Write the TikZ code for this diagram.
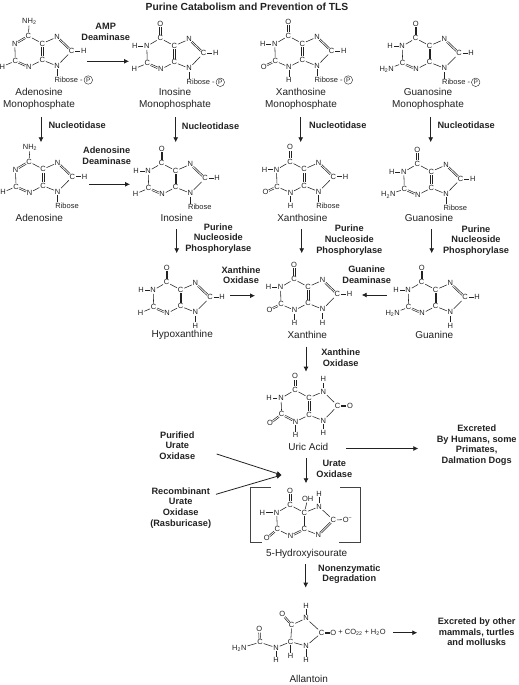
\documentclass[tikz,border=0pt]{standalone}
\usepackage{fontspec}
\setmainfont{Liberation Sans}
\usetikzlibrary{arrows.meta,calc}
\definecolor{ink}{HTML}{222222}
\tikzset{
  atom/.style={font=\fontsize{7.5}{7.5}\selectfont,text=ink,inner sep=0.7pt},
  bond/.style={draw=ink,line width=.55pt},
  dbond/.style={draw=ink,line width=.5pt,shorten <=3.6pt,shorten >=3.6pt},
  name label/.style={font=\fontsize{10}{12}\selectfont,text=ink,align=center,inner sep=0pt},
  enzyme/.style={font=\bfseries\fontsize{9.2}{10.7}\selectfont,text=ink,align=center,inner sep=0pt},
  rxnarrow/.style={draw=ink,line width=.8pt,-{Latex[length=5pt,width=5pt]}},
  bracketline/.style={draw=ink!85,line width=.8pt},
  phos/.style={circle,draw=ink,line width=.4pt,inner sep=0pt,minimum size=8.5pt,font=\fontsize{6.5}{6.5}\selectfont,text=ink}
}
\newcommand\At[4]{\node[atom] (\p#1) at (#2,#3) {#4};}
\newcommand\bs[2]{\draw[bond] (\p#1) -- (\p#2);}
\newcommand\bd[2]{%
  \draw[dbond] ($(\p#1)!0.8pt!90:(\p#2)$) -- ($(\p#2)!0.8pt!-90:(\p#1)$);
  \draw[dbond] ($(\p#1)!0.8pt!-90:(\p#2)$) -- ($(\p#2)!0.8pt!90:(\p#1)$);}
% purine skeleton: #1 name, #2 #3 position of C6, #4 the substituents
\newcommand\purine[4]{%
  \def\p{#1}%
  \begin{scope}[shift={(#2,#3)}]
    \At{cs}{0}{0}{C}
    \At{na}{-13.5}{8}{N}
    \At{cb}{-13}{25}{C}
    \At{nc}{0.5}{31}{N}
    \At{cd}{14}{24}{C}
    \At{ce}{14}{7.5}{C}
    \At{ng}{28.7}{1}{N}
    \At{ch}{43.3}{15}{C}
    \At{nj}{28.7}{30}{N}
    \At{hh}{55.5}{15}{H}
    \bs{cs}{ce}\bs{ce}{ng}\bd{ng}{ch}\bs{ch}{nj}\bs{nj}{cd}\bd{cd}{ce}\bs{cd}{nc}\bs{na}{cb}\bs{ch}{hh}
    #4
  \end{scope}}
\newcommand\oxo{\At{o}{0}{-14.5}{O}\bd{cs}{o}\bs{na}{cs}}
\newcommand\amino{\At{o}{1}{-14.5}{NH\textsubscript{2}}\bs{cs}{o}\bd{na}{cs}}
\newcommand\nh{\At{hn}{-25.5}{8}{H}\bs{na}{hn}}
\newcommand\ch{\At{hc}{-26}{30.5}{H}\bs{cb}{hc}\bd{cb}{nc}}
\newcommand\co{\At{oc}{-24.5}{30.5}{O}\bd{cb}{oc}\bs{cb}{nc}\At{hm}{0.5}{44}{H}\bs{nc}{hm}}
\newcommand\hnt{\At{ha}{-29}{31}{H\textsubscript{2}N}\bs{cb}{ha}\bd{cb}{nc}}
\newcommand\nineh{\At{hj}{28.7}{43.5}{H}\bs{nj}{hj}}
\newcommand\rib{\node[atom,anchor=west] (\p r) at (25.5,44) {Ribose};\draw[bond] (\p nj) -- (\p nj |- \p r.north);}
\newcommand\ribp{\node[atom,anchor=west] (\p r) at (25.5,44) {Ribose -};\draw[bond] (\p nj) -- (\p nj |- \p r.north);\node[phos] (\p q) at (60,44) {P};}
\newcommand\rxn[5]{\coordinate (#1a) at (#2,#3);\coordinate (#1b) at (#4,#5);\draw[rxnarrow] (#1a) -- (#1b);}
\begin{document}
\begin{tikzpicture}[x=1pt,y=-1pt]
\path[fill=white,use as bounding box] (0,0) rectangle (519,685);
\node[enzyme,font=\bfseries\fontsize{10.3}{11}\selectfont] (title) at (247,6.5) {Purine Catabolism and Prevention of TLS};

% row 1
\purine{amp}{28.3}{36}{\amino\ch\ribp}
\purine{imp}{160.3}{38.3}{\oxo\nh\ch\ribp}
\purine{xmp}{288.3}{36}{\oxo\nh\co\ribp}
\purine{gmp}{415.7}{38.3}{\oxo\nh\hnt\ribp}
\node[name label] (ampl) at (39,98.7) {Adenosine\\Monophosphate};
\node[name label] (impl) at (175,98.7) {Inosine\\Monophosphate};
\node[name label] (xmpl) at (301,98.7) {Xanthosine\\Monophosphate};
\node[name label] (gmpl) at (428,98.7) {Guanosine\\Monophosphate};

% row 2
\purine{ado}{29}{161.7}{\amino\ch\rib}
\purine{ino}{161.7}{163.3}{\oxo\nh\ch\rib}
\purine{xao}{290}{161.7}{\oxo\nh\co\rib}
\purine{guo}{417.3}{164}{\oxo\nh\hnt\rib}
\node[name label] (adol) at (39.3,218.3) {Adenosine};
\node[name label] (inol) at (176.7,218.3) {Inosine};
\node[name label] (xaol) at (302.3,218.3) {Xanthosine};
\node[name label] (guol) at (429,218.3) {Guanosine};

% row 3
\purine{hyp}{166.7}{282.3}{\oxo\nh\ch\nineh}
\purine{xan}{294}{279.3}{\oxo\nh\co\nineh}
\purine{gua}{421.7}{282.3}{\oxo\nh\hnt\nineh}
\node[name label] (hypl) at (182.3,335) {Hypoxanthine};
\node[name label] (xanl) at (307.3,335) {Xanthine};
\node[name label] (gual) at (434.3,335) {Guanine};

% uric acid
\def\p{ua}
\At{cs}{295}{390}{C}\At{o}{295}{376}{O}\At{na}{281}{398.3}{N}\At{hn}{269}{398.3}{H}
\At{cb}{281.7}{414.3}{C}\At{oc}{270}{423.3}{O}\At{nc}{295.7}{421.7}{N}\At{hm}{295.7}{435}{H}
\At{cd}{309}{415}{C}\At{ce}{309}{397.7}{C}\At{ng}{323.3}{391.7}{N}\At{hg}{323.3}{379.3}{H}
\At{ch}{337.7}{405.7}{C}\At{oh}{350}{405.7}{O}\At{nj}{323.3}{420.7}{N}\At{hj}{323.3}{432.7}{H}
\bd{cs}{o}\bs{cs}{na}\bs{na}{hn}\bs{na}{cb}\bd{cb}{oc}\bd{cb}{nc}\bs{nc}{hm}\bs{nc}{cd}
\bd{cd}{ce}\bs{ce}{cs}\bs{ce}{ng}\bs{ng}{hg}\bs{ng}{ch}\bd{ch}{oh}\bs{ch}{nj}\bs{nj}{hj}\bs{nj}{cd}
\node[name label] (ual) at (308.3,447.3) {Uric Acid};

% 5-hydroxyisourate
\def\p{hi}
\At{cs}{290}{505}{C}\At{o}{290}{490.7}{O}\At{na}{276.7}{512.7}{N}\At{hn}{262.3}{512.7}{H}
\At{cb}{277.3}{529.3}{C}\At{oc}{266.7}{538.3}{O}\At{nc}{290.7}{536}{N}
\At{cd}{304.3}{529.3}{C}\At{ce}{304.3}{512.7}{C}\At{oh}{307.7}{499}{OH}
\At{ng}{319}{506.7}{N}\At{hg}{319}{494}{H}\At{ch}{333.3}{520}{C}
\At{om}{347.5}{519.5}{O\textsuperscript{−}}\At{nj}{318.3}{535}{N}
\bd{cs}{o}\bs{cs}{na}\bs{na}{hn}\bs{na}{cb}\bd{cb}{oc}\bs{cb}{nc}\bd{nc}{cd}
\bs{cd}{ce}\bs{ce}{cs}\bs{ce}{oh}\bs{ce}{ng}\bs{ng}{hg}\bs{ng}{ch}\bs{ch}{om}\bd{ch}{nj}\bs{nj}{cd}
\draw[bracketline] (270.7,487.3) -- (250.7,487.3) -- (250.7,542.7) -- (261.7,542.7);
\draw[bracketline] (340,487.3) -- (360,487.3) -- (360,542.7) -- (339.3,542.7);
\node[name label] (hil) at (306.7,554.3) {5-Hydroxyisourate};

% allantoin
\def\p{al}
\At{ht}{306}{606}{H}\At{nt}{306}{618.3}{N}\At{ct}{291.7}{625}{C}\At{ot}{282.3}{614.3}{O}
\At{cr}{321.7}{632.7}{C}\At{or}{333.3}{632.7}{O}\At{cl}{290.7}{641.7}{C}\At{hl}{290.7}{656}{H}
\At{nr}{306}{646}{N}\At{hr}{306}{660}{H}\At{nl}{276}{647.7}{N}\At{hh}{276}{660}{H}
\At{cu}{260}{642.3}{C}\At{ou}{259.3}{629}{O}\At{na}{239.3}{648.3}{H\textsubscript{2}N}
\bs{ht}{nt}\bs{nt}{ct}\bd{ct}{ot}\bs{ct}{cl}\bs{nt}{cr}\bd{cr}{or}\bs{cr}{nr}\bs{nr}{hr}\bs{nr}{cl}
\bs{cl}{hl}\bs{cl}{nl}\bs{nl}{hh}\bs{nl}{cu}\bd{cu}{ou}\bs{cu}{na}
\node[atom,anchor=west] (alp) at (337.5,632.7) {+ CO\textsubscript{22} + H\textsubscript{2}O};
\node[name label] (all) at (308.7,679) {Allantoin};

% enzymes
\node[enzyme] (e1) at (105.7,32) {AMP\\Deaminase};
\node[enzyme,anchor=west] (e2) at (48.3,125) {Nucleotidase};
\node[enzyme,anchor=west] (e3) at (181.7,126) {Nucleotidase};
\node[enzyme,anchor=west] (e4) at (309,125) {Nucleotidase};
\node[enzyme,anchor=west] (e5) at (437.3,125) {Nucleotidase};
\node[enzyme] (e6) at (106.7,155.5) {Adenosine\\Deaminase};
\node[enzyme] (e7) at (218.3,238.5) {Purine\\Nucleoside\\Phosphorylase};
\node[enzyme] (e8) at (349.3,240) {Purine\\Nucleoside\\Phosphorylase};
\node[enzyme] (e9) at (476,240.5) {Purine\\Nucleoside\\Phosphorylase};
\node[enzyme] (e10) at (241,275.3) {Xanthine\\Oxidase};
\node[enzyme] (e11) at (366.7,274.7) {Guanine\\Deaminase};
\node[enzyme] (e12) at (340.7,357.7) {Xanthine\\Oxidase};
\node[enzyme] (e13) at (334.3,468.7) {Urate\\Oxidase};
\node[enzyme] (e14) at (349.3,574.2) {Nonenzymatic\\Degradation};
\node[enzyme] (e15) at (177.3,445.5) {Purified\\Urate\\Oxidase};
\node[enzyme] (e16) at (180.7,507.8) {Recombinant\\Urate\\Oxidase\\(Rasburicase)};
\node[enzyme] (e17) at (476.7,445.2) {Excreted\\By Humans, some\\Primates,\\Dalmation Dogs};
\node[enzyme] (e18) at (476.7,632) {Excreted by other\\mammals, turtles\\and mollusks};

% reactions
\rxn{r1}{87.3}{61.3}{129}{61.3}
\rxn{r2}{41}{117}{41}{142.3}
\rxn{r3}{175.7}{117}{175.7}{142.3}
\rxn{r4}{300.7}{117}{300.7}{142.3}
\rxn{r5}{430.7}{117}{430.7}{142.3}
\rxn{r6}{89.3}{184.3}{130}{184.3}
\rxn{r7}{176.7}{229}{176.7}{253.3}
\rxn{r8}{301.7}{229}{301.7}{253.3}
\rxn{r9}{431.7}{229}{431.7}{253.3}
\rxn{r10}{230}{295.7}{255}{295.7}
\rxn{r11}{386.7}{295}{361.7}{295}
\rxn{r12}{306}{346.7}{306}{371.7}
\rxn{r13}{346}{448.5}{418.3}{448.5}
\rxn{r14}{306}{458.3}{306}{483.3}
\rxn{r15}{305.7}{564}{305.7}{587.7}
\rxn{r16}{393.3}{632.7}{417.3}{632.7}
\coordinate (merge) at (281.7,475);
\coordinate (pua) at (216.7,454);
\coordinate (rua) at (216,494.3);
\draw[rxnarrow] (pua) -- (merge);
\draw[rxnarrow] (rua) -- (merge);
\end{tikzpicture}
\end{document}
